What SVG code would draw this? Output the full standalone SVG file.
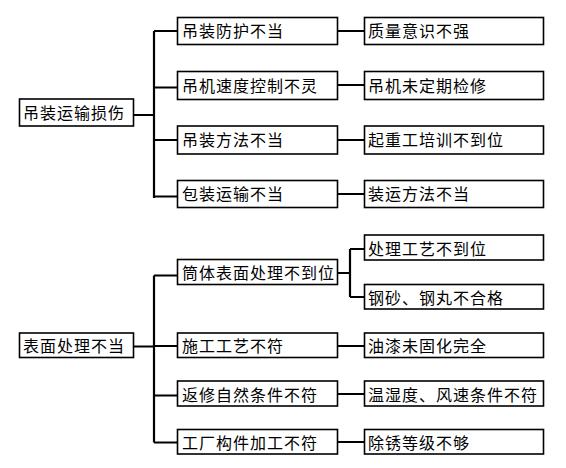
<svg xmlns="http://www.w3.org/2000/svg" width="566" height="468" viewBox="0 0 566 468">
<style>
rect.b{fill:#fff;stroke:#000;stroke-width:1.6}
text{font-family:"Noto Sans CJK SC","Liberation Sans",sans-serif;font-size:16px;fill:#000;letter-spacing:1px}
#connectors path{fill:none;stroke:#000;stroke-width:2.2}
</style>
<rect width="566" height="468" fill="#fff"/>
<g id="connectors">
<path d="M134 115H154M154 31V198M154 31H177M154 87.5H177M154 140H177M154 196.5H177"/>
<path d="M338 31H364M338 85H364M338 140H364M338 194H364"/>
<path d="M134 346.5H154M154 275.5V442.5M154 275.5H177M154 346H177M154 395.5H177M154 442.5H177"/>
<path d="M337 273H350M350 249V297M350 249H364M350 297H364"/>
<path d="M338 346H364M338 394H364M338 442H364"/>
</g>
<g id="n_root1"><rect class="b" x="19.5" y="99" width="114" height="27"/><text x="23" y="119">吊装运输损伤</text></g>
<g id="n_a1"><rect class="b" x="177.5" y="17.5" width="160" height="27"/><text x="182" y="37">吊装防护不当</text></g>
<g id="n_a2"><rect class="b" x="177.5" y="71.5" width="160" height="28"/><text x="182" y="92">吊机速度控制不灵</text></g>
<g id="n_a3"><rect class="b" x="177.5" y="126" width="160" height="28"/><text x="182" y="146">吊装方法不当</text></g>
<g id="n_a4"><rect class="b" x="177.5" y="180.5" width="160" height="27"/><text x="182" y="200">包装运输不当</text></g>
<g id="n_b1"><rect class="b" x="364.5" y="17.5" width="179" height="27"/><text x="368" y="37">质量意识不强</text></g>
<g id="n_b2"><rect class="b" x="364.5" y="71.5" width="179" height="28"/><text x="368" y="92">吊机未定期检修</text></g>
<g id="n_b3"><rect class="b" x="364.5" y="126" width="179" height="28"/><text x="368" y="146">起重工培训不到位</text></g>
<g id="n_b4"><rect class="b" x="364.5" y="180.5" width="179" height="27"/><text x="368" y="200">装运方法不当</text></g>
<g id="n_root2"><rect class="b" x="19.5" y="333" width="114" height="24.5"/><text x="23" y="352">表面处理不当</text></g>
<g id="n_c1"><rect class="b" x="177.5" y="259.5" width="160" height="25"/><text x="182" y="279">筒体表面处理不到位</text></g>
<g id="n_c2"><rect class="b" x="177.5" y="333" width="160" height="24.5"/><text x="182" y="352">施工工艺不符</text></g>
<g id="n_c3"><rect class="b" x="177.5" y="381" width="160" height="25"/><text x="182" y="400.5">返修自然条件不符</text></g>
<g id="n_c4"><rect class="b" x="177.5" y="429.5" width="160" height="24.5"/><text x="182" y="449">工厂构件加工不符</text></g>
<g id="n_d1"><rect class="b" x="364.5" y="235" width="179" height="25"/><text x="368" y="254.5">处理工艺不到位</text></g>
<g id="n_d2"><rect class="b" x="364.5" y="284.5" width="179" height="24.5"/><text x="368" y="304">钢砂、钢丸不合格</text></g>
<g id="n_d3"><rect class="b" x="364.5" y="333" width="179" height="24.5"/><text x="368" y="352">油漆未固化完全</text></g>
<g id="n_d4"><rect class="b" x="364.5" y="381" width="179" height="25"/><text x="368" y="400.5">温湿度、风速条件不符</text></g>
<g id="n_d5"><rect class="b" x="364.5" y="429.5" width="179" height="24.5"/><text x="368" y="449">除锈等级不够</text></g>
</svg>
